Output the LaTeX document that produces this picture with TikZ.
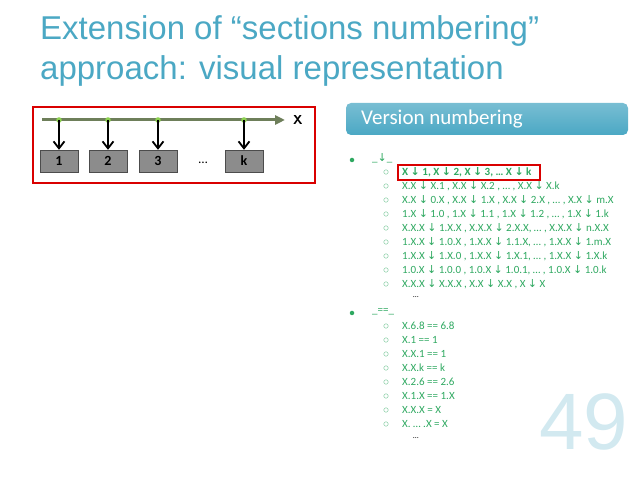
\documentclass[tikz,border=0pt]{standalone}
\usepackage{fontspec}
\setmainfont{Carlito}
\newfontfamily\titlefont{Liberation Sans}
\newfontfamily\dv{DejaVu Sans}
\newcommand{\da}{{\dv\char"2193}}
\definecolor{teal1}{HTML}{4BA8C4}
\definecolor{grn}{HTML}{2EA860}
\definecolor{lgrn}{HTML}{8CD050}
\definecolor{axis}{HTML}{6E7F5A}
\usetikzlibrary{arrows.meta}
\begin{document}
\begin{tikzpicture}[x=1pt,y=-1pt,
  box/.style={draw=black!70,fill=black!45,minimum width=38pt,minimum height=22pt,inner sep=0pt,font=\bfseries\fontsize{14}{15}\selectfont},
  item/.style={anchor=west,text=grn,font=\fontsize{11}{12}\selectfont,inner sep=0pt},
  sub/.style={circle,draw=grn!70,line width=0.4pt,minimum size=4.5pt,inner sep=0pt},
  bul/.style={circle,fill=grn,minimum size=4.5pt,inner sep=0pt},
  tick/.style={-{Straight Barb[length=7pt,width=11pt]},line width=1.8pt}]
\useasboundingbox (0,0) rectangle (638,478);
\node[anchor=west,text=teal1,font=\titlefont\fontsize{33}{36}\selectfont,inner sep=0pt] (t1) at (40,31) {Extension of “sections numbering”};
\node[anchor=west,text=teal1,font=\titlefont\fontsize{33}{36}\selectfont,inner sep=0pt] (t2) at (40,71) {approach: visual representation};
% left diagram
\draw[red!85!black,line width=1.5pt] (33,107) rectangle (315,183);
\coordinate (a0) at (42,120);
\coordinate (a1) at (285,120);
\draw[axis,line width=3pt,-{Triangle[length=10pt,width=9pt]}] (a0) -- (a1);
\node[font=\bfseries\sffamily\fontsize{13}{14}\selectfont] (xl) at (298,120) {X};
\foreach \n/\x/\t in {b1/59/1,b2/108/2,b3/158/3,bk/244/k}{
  \node[box] (\n) at (\x,161) {\t};
  \fill[lgrn] (\x,120) circle (2.8pt);
  \coordinate (p\n) at (\x,120);
  \draw[tick] (p\n) -- (\n.north);
}
\node[font=\fontsize{13}{14}\selectfont] (dots) at (203,163) {\dots};
% header
\shade[top color=teal1!75,bottom color=teal1,rounded corners=5pt] (346,103) rectangle (628,135);
\node[anchor=west,text=white,font=\fontsize{21}{24}\selectfont,inner sep=0pt] (vh) at (361,119) {Version numbering};
% list 1
\node[bul] (bu1) at (352,160) {};
\node[item] (h1) at (372,158) {\_\da\_};
\foreach \y/\t in {
172/{\textbf{X \da{} 1, X \da{} 2, X \da{} 3, … X \da{} k}},
186/{X.X \da{} X.1 , X.X \da{} X.2 , … , X.X \da{} X.k},
200/{X.X \da{} 0.X , X.X \da{} 1.X , X.X \da{} 2.X , … , X.X \da{} m.X},
214/{1.X \da{} 1.0 , 1.X \da{} 1.1 , 1.X \da{} 1.2 , … , 1.X \da{} 1.k},
228/{X.X.X \da{} 1.X.X , X.X.X \da{} 2.X.X, … , X.X.X \da{} n.X.X},
242/{1.X.X \da{} 1.0.X , 1.X.X \da{} 1.1.X, … , 1.X.X \da{} 1.m.X},
256/{1.X.X \da{} 1.X.0 , 1.X.X \da{} 1.X.1, … , 1.X.X \da{} 1.X.k},
270/{1.0.X \da{} 1.0.0 , 1.0.X \da{} 1.0.1, … , 1.0.X \da{} 1.0.k},
284/{X.X.X \da{} X.X.X , X.X \da{} X.X , X \da{} X}}{
  \node[sub] at (386,\y) {};
  \node[item] at (402,\y) {\t};
}
\draw[red!85!black,line width=1.5pt] (398,165) rectangle (540,180);
\node[font=\fontsize{8}{9}\selectfont] (e1) at (416,297) {…};
% list 2
\node[bul] (bu2) at (352,313) {};
\node[item] (h2) at (372,312) {\_==\_};
\foreach \y/\t in {326/{X.6.8 == 6.8},340/{X.1 == 1},354/{X.X.1 == 1},368/{X.X.k == k},382/{X.2.6 == 2.6},396/{X.1.X == 1.X},410/{X.X.X = X},424/{X. … .X = X}}{
  \node[sub] at (386,\y) {};
  \node[item] at (402,\y) {\t};
}
\node[font=\fontsize{8}{9}\selectfont] (e2) at (416,438) {…};
\node[text=teal1!25,font=\titlefont\fontsize{80}{84}\selectfont,inner sep=0pt] (pg) at (584,422) {49};
\end{tikzpicture}
\end{document}
